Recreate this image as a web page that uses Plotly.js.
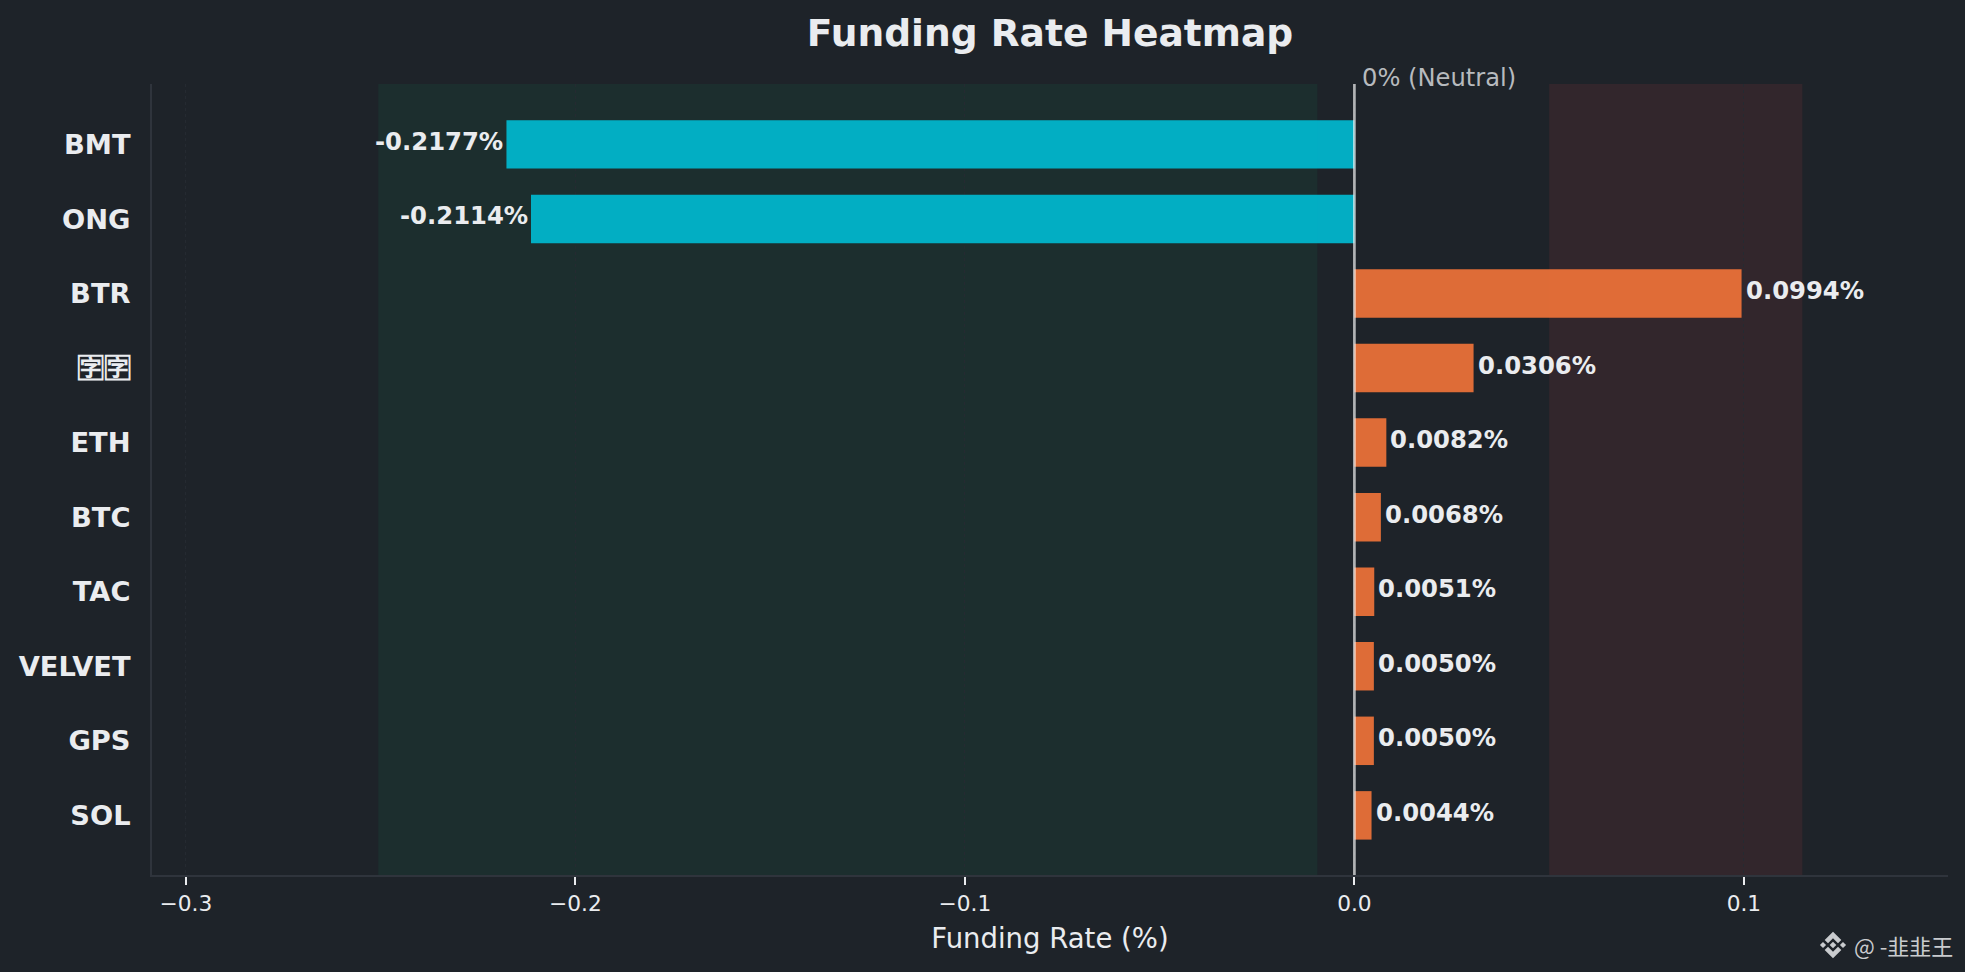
<!DOCTYPE html>
<html><head><meta charset="utf-8">
<script src="https://cdn.plot.ly/plotly-3.0.1.min.js"></script>
<style>html,body{margin:0;padding:0;background:#1E2329}#c{width:1965px;height:972px}</style>
</head><body><div id="c"></div>
<script>
const symbols = ["BMT","ONG","BTR","🈑🈑","ETH","BTC","TAC","VELVET","GPS","SOL"];
const rates = [-0.2177,-0.2114,0.0994,0.0306,0.0082,0.0068,0.0051,0.0050,0.0050,0.0044];
const rateLabels = ["-0.2177%","-0.2114%","0.0994%","0.0306%","0.0082%","0.0068%","0.0051%","0.0050%","0.0050%","0.0044%"];
const greenBand = [-0.2506,-0.0095];
const redBand = [0.05,0.115];
const NEG = "rgba(0,188,212,0.9)", POS = "rgba(243,116,56,0.9)";
const FONT = "DejaVu Sans", INK = "#EAECEF", BG = "#1E2329";
const W = 1965, H = 972, M = {l:152,r:17,t:84,b:97,pad:0};
const px = x => (x-M.l)/(W-M.l-M.r), py = y => 1-(y-M.t)/(H-M.t-M.b);
const logo = "data:image/svg+xml;utf8," + encodeURIComponent('<svg xmlns="http://www.w3.org/2000/svg" viewBox="0 0 126 126"><g fill="#C9CBCE"><path d="M63 49L77 63L63 77L49 63Z"/><path d="M21 50L34 63L21 76L8 63Z"/><path d="M105 50L118 63L105 76L92 63Z"/><path d="M63 7L98 42L84 56L63 35L42 56L28 42Z"/><path d="M63 119L28 84L42 70L63 91L84 70L98 84Z"/></g></svg>');

const valueNotes = rates.map((v,i)=>({
  x:v, y:symbols[i], xref:"x", yref:"y", text:rateLabels[i], showarrow:false,
  xanchor:v<0?"right":"left", yanchor:"middle", xshift:v<0?-1:2, yshift:3,
  font:{family:FONT,size:24.3,color:INK,weight:700}
}));

Plotly.newPlot("c",[{
  type:"bar", orientation:"h", x:rates, y:symbols,
  marker:{color:rates.map(v=>v<0?NEG:POS),line:{width:0}},
  hoverinfo:"skip", showlegend:false
}],{
  width:W, height:H, margin:M, paper_bgcolor:BG, plot_bgcolor:BG, bargap:0.35,
  font:{family:FONT,color:INK},
  title:{text:"<b>Funding Rate Heatmap</b>",font:{family:FONT,size:37.6,color:INK},xref:"paper",x:0.5,xanchor:"center",yref:"container",y:1-33/H,yanchor:"middle"},
  xaxis:{range:[-0.3087,0.1524],dtick:0.1,tick0:0,tickformat:".1f",zeroline:false,
    showline:true,linecolor:"#2F343C",linewidth:2,
    showgrid:true,gridcolor:"#252A31",griddash:"dot",gridwidth:1,
    ticks:"outside",ticklen:8,tickwidth:2,tickcolor:"#EAECEF",
    tickfont:{family:FONT,size:21.7,color:INK},
    title:{text:"Funding Rate (%)",font:{family:FONT,size:27.5,color:INK},standoff:14}},
  yaxis:{type:"category",categoryorder:"array",categoryarray:symbols,range:[9.8,-0.81],
    showline:true,linecolor:"#2F343C",linewidth:2,showgrid:false,zeroline:false,ticks:"",
    ticklabelstandoff:14,
    tickfont:{family:FONT,size:27.3,color:INK,weight:700}},
  shapes:[
    {type:"rect",layer:"below",xref:"x",yref:"paper",x0:greenBand[0],x1:greenBand[1],y0:0,y1:1,fillcolor:"#1C2E2E",line:{width:0}},
    {type:"rect",layer:"below",xref:"x",yref:"paper",x0:redBand[0],x1:redBand[1],y0:0,y1:1,fillcolor:"#32262C",line:{width:0}},
    {type:"line",layer:"above",xref:"x",yref:"paper",x0:0,x1:0,y0:0,y1:1,line:{color:"rgba(255,255,255,0.65)",width:2.7}}
  ],
  images:[{source:logo,xref:"paper",yref:"paper",x:px(1833),y:py(945),sizex:30/(W-M.l-M.r),sizey:30/(H-M.t-M.b),sizing:"contain",xanchor:"center",yanchor:"middle",layer:"above"}],
  annotations:valueNotes.concat([
    {x:0,xref:"x",y:py(78),yref:"paper",text:"0% (Neutral)",showarrow:false,xanchor:"left",yanchor:"middle",xshift:6,font:{family:FONT,size:24.2,color:"#B7BABE"}},
    {x:px(1955),xref:"paper",y:py(945),yref:"paper",text:"@ -韭韭王",showarrow:false,xanchor:"right",yanchor:"middle",font:{family:"Noto Sans CJK SC",size:22,color:"#C9CBCE"}}
  ])
},{staticPlot:true,displayModeBar:false});
</script></body></html>
